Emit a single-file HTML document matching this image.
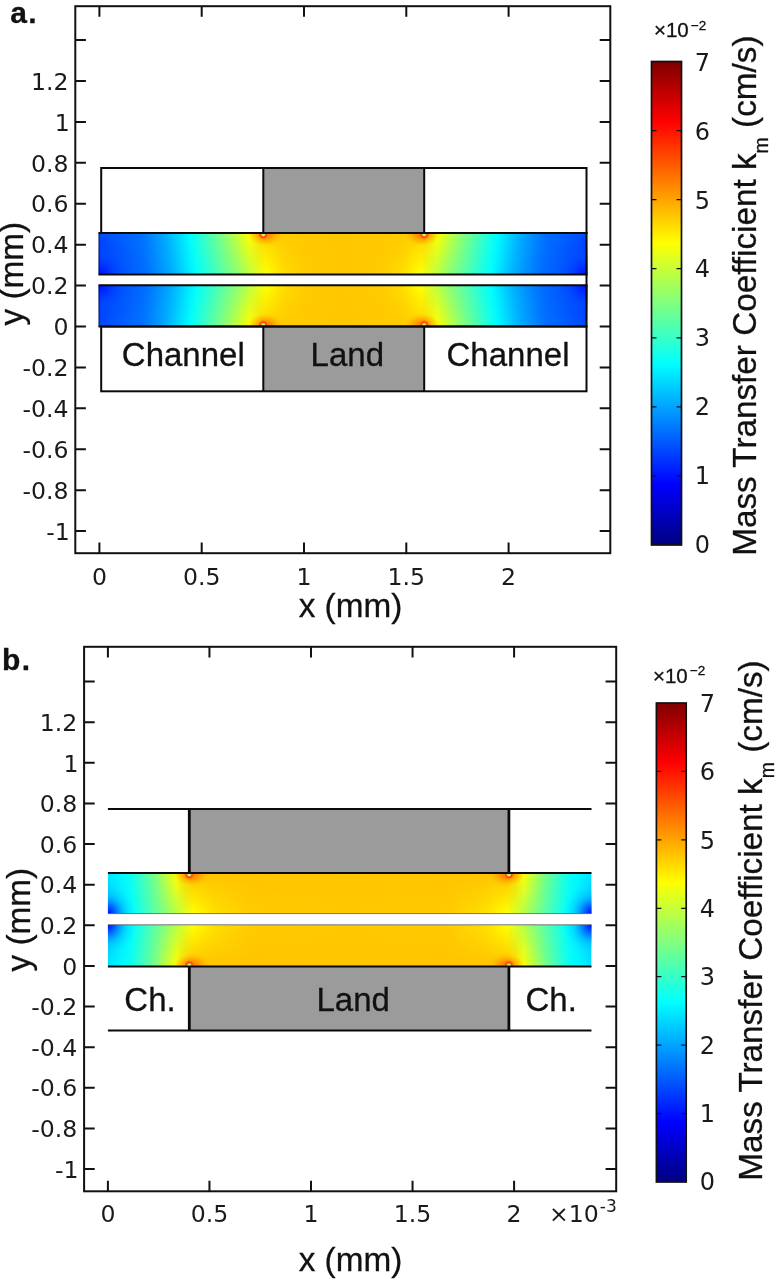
<!DOCTYPE html><html><head><meta charset="utf-8"><title>Mass transfer coefficient</title>
<style>html,body{margin:0;padding:0;background:#fff}svg{display:block}.tk{font-family:"DejaVu Sans","Liberation Sans",sans-serif;font-size:23.6px;fill:#1a1a1a}.cb{font-family:"DejaVu Sans","Liberation Sans",sans-serif;font-size:24px;fill:#1a1a1a}.ar{font-family:"Liberation Sans",Arial,sans-serif;fill:#111;stroke:#111;stroke-width:0.3px}</style></head><body>
<svg width="776" height="1280" viewBox="0 0 776 1280">
<defs>
<linearGradient id="jet" x1="0" y1="0" x2="0" y2="1"><stop offset="0.0000" stop-color="#800000"/><stop offset="0.0312" stop-color="#9f0000"/><stop offset="0.0625" stop-color="#bf0000"/><stop offset="0.0938" stop-color="#df0000"/><stop offset="0.1250" stop-color="#ff0000"/><stop offset="0.1562" stop-color="#ff2000"/><stop offset="0.1875" stop-color="#ff4000"/><stop offset="0.2188" stop-color="#ff6000"/><stop offset="0.2500" stop-color="#ff8000"/><stop offset="0.2812" stop-color="#ff9f00"/><stop offset="0.3125" stop-color="#ffbf00"/><stop offset="0.3438" stop-color="#ffdf00"/><stop offset="0.3750" stop-color="#ffff00"/><stop offset="0.4062" stop-color="#dfff20"/><stop offset="0.4375" stop-color="#bfff40"/><stop offset="0.4688" stop-color="#9fff60"/><stop offset="0.5000" stop-color="#80ff80"/><stop offset="0.5312" stop-color="#60ff9f"/><stop offset="0.5625" stop-color="#40ffbf"/><stop offset="0.5938" stop-color="#20ffdf"/><stop offset="0.6250" stop-color="#00ffff"/><stop offset="0.6562" stop-color="#00dfff"/><stop offset="0.6875" stop-color="#00bfff"/><stop offset="0.7188" stop-color="#009fff"/><stop offset="0.7500" stop-color="#0080ff"/><stop offset="0.7812" stop-color="#0060ff"/><stop offset="0.8125" stop-color="#0040ff"/><stop offset="0.8438" stop-color="#0020ff"/><stop offset="0.8750" stop-color="#0000ff"/><stop offset="0.9062" stop-color="#0000df"/><stop offset="0.9375" stop-color="#0000bf"/><stop offset="0.9688" stop-color="#00009f"/><stop offset="1.0000" stop-color="#000080"/></linearGradient>
<linearGradient id="vmask" x1="0" y1="0" x2="0" y2="1"><stop offset="0" stop-color="#000"/><stop offset="1" stop-color="#fff"/></linearGradient>
<linearGradient id="vmaskr" x1="0" y1="0" x2="0" y2="1"><stop offset="0" stop-color="#fff"/><stop offset="1" stop-color="#000"/></linearGradient>
</defs>
<defs>
<linearGradient id="ago" gradientUnits="userSpaceOnUse" x1="98.8" y1="0" x2="587.4" y2="0"><stop offset="0.0012" stop-color="#004cff"/><stop offset="0.0438" stop-color="#005fff"/><stop offset="0.0864" stop-color="#0071ff"/><stop offset="0.1109" stop-color="#008eff"/><stop offset="0.1355" stop-color="#00abff"/><stop offset="0.1525" stop-color="#00c7ff"/><stop offset="0.1696" stop-color="#00e4ff"/><stop offset="0.1867" stop-color="#01fffe"/><stop offset="0.2046" stop-color="#24ffdb"/><stop offset="0.2225" stop-color="#47ffb8"/><stop offset="0.2404" stop-color="#6bff94"/><stop offset="0.2583" stop-color="#8eff71"/><stop offset="0.2706" stop-color="#aaff55"/><stop offset="0.2828" stop-color="#c7ff38"/><stop offset="0.2951" stop-color="#e3ff1c"/><stop offset="0.3074" stop-color="#ffff00"/><stop offset="0.3207" stop-color="#ffea00"/><stop offset="0.3340" stop-color="#ffd500"/><stop offset="0.3709" stop-color="#ffca00"/><stop offset="0.5000" stop-color="#ffc700"/><stop offset="0.5000" stop-color="#ffc700"/><stop offset="0.6291" stop-color="#ffca00"/><stop offset="0.6660" stop-color="#ffd500"/><stop offset="0.6793" stop-color="#ffea00"/><stop offset="0.6926" stop-color="#ffff00"/><stop offset="0.7049" stop-color="#e3ff1c"/><stop offset="0.7172" stop-color="#c7ff38"/><stop offset="0.7294" stop-color="#aaff55"/><stop offset="0.7417" stop-color="#8eff71"/><stop offset="0.7596" stop-color="#6bff94"/><stop offset="0.7775" stop-color="#47ffb8"/><stop offset="0.7954" stop-color="#24ffdb"/><stop offset="0.8133" stop-color="#01fffe"/><stop offset="0.8304" stop-color="#00e4ff"/><stop offset="0.8475" stop-color="#00c7ff"/><stop offset="0.8645" stop-color="#00abff"/><stop offset="0.8891" stop-color="#008eff"/><stop offset="0.9136" stop-color="#0071ff"/><stop offset="0.9562" stop-color="#005fff"/><stop offset="0.9988" stop-color="#004cff"/></linearGradient>
<linearGradient id="agi" gradientUnits="userSpaceOnUse" x1="98.8" y1="0" x2="587.4" y2="0"><stop offset="0.0012" stop-color="#0028ff"/><stop offset="0.0274" stop-color="#003eff"/><stop offset="0.0536" stop-color="#0054ff"/><stop offset="0.0986" stop-color="#0071ff"/><stop offset="0.1232" stop-color="#008eff"/><stop offset="0.1478" stop-color="#00abff"/><stop offset="0.1648" stop-color="#00c7ff"/><stop offset="0.1819" stop-color="#00e4ff"/><stop offset="0.1989" stop-color="#01fffe"/><stop offset="0.2204" stop-color="#24ffdb"/><stop offset="0.2419" stop-color="#47ffb8"/><stop offset="0.2634" stop-color="#6bff94"/><stop offset="0.2849" stop-color="#8eff71"/><stop offset="0.2992" stop-color="#aaff55"/><stop offset="0.3135" stop-color="#c7ff38"/><stop offset="0.3279" stop-color="#e3ff1c"/><stop offset="0.3422" stop-color="#ffff00"/><stop offset="0.3811" stop-color="#ffdb00"/><stop offset="0.4220" stop-color="#ffcb00"/><stop offset="0.5000" stop-color="#ffc700"/><stop offset="0.5000" stop-color="#ffc700"/><stop offset="0.5780" stop-color="#ffcb00"/><stop offset="0.6189" stop-color="#ffdb00"/><stop offset="0.6578" stop-color="#ffff00"/><stop offset="0.6721" stop-color="#e3ff1c"/><stop offset="0.6865" stop-color="#c7ff38"/><stop offset="0.7008" stop-color="#aaff55"/><stop offset="0.7151" stop-color="#8eff71"/><stop offset="0.7366" stop-color="#6bff94"/><stop offset="0.7581" stop-color="#47ffb8"/><stop offset="0.7796" stop-color="#24ffdb"/><stop offset="0.8011" stop-color="#01fffe"/><stop offset="0.8181" stop-color="#00e4ff"/><stop offset="0.8352" stop-color="#00c7ff"/><stop offset="0.8522" stop-color="#00abff"/><stop offset="0.8768" stop-color="#008eff"/><stop offset="0.9014" stop-color="#0071ff"/><stop offset="0.9464" stop-color="#0054ff"/><stop offset="0.9726" stop-color="#003eff"/><stop offset="0.9988" stop-color="#0028ff"/></linearGradient>
<mask id="amu" maskUnits="userSpaceOnUse" x="0" y="233" width="776" height="41.5"><rect x="0" y="233" width="776" height="41.5" fill="url(#amku)"/></mask>
<linearGradient id="amku" gradientUnits="userSpaceOnUse" x1="0" y1="233" x2="0" y2="274.5"><stop offset="0" stop-color="#000"/><stop offset="1" stop-color="#fff"/></linearGradient>
<mask id="aml" maskUnits="userSpaceOnUse" x="0" y="285.2" width="776" height="41.3"><rect x="0" y="285.2" width="776" height="41.3" fill="url(#amkl)"/></mask>
<linearGradient id="amkl" gradientUnits="userSpaceOnUse" x1="0" y1="285.2" x2="0" y2="326.5"><stop offset="0" stop-color="#fff"/><stop offset="1" stop-color="#000"/></linearGradient>
<radialGradient id="ahot"><stop offset="0" stop-color="#f04800"/><stop offset="0.55" stop-color="#f55000"/><stop offset="0.8" stop-color="#ff7800" stop-opacity="0.7"/><stop offset="1" stop-color="#ff9600" stop-opacity="0"/></radialGradient>
<radialGradient id="ahalo"><stop offset="0" stop-color="#ff7800" stop-opacity="1"/><stop offset="0.35" stop-color="#ff8c00" stop-opacity="0.85"/><stop offset="0.7" stop-color="#ffaa00" stop-opacity="0.45"/><stop offset="1" stop-color="#ffc800" stop-opacity="0"/></radialGradient>
<radialGradient id="acold"><stop offset="0" stop-color="#000bff" stop-opacity="1"/><stop offset="0.3" stop-color="#002fff" stop-opacity="0.85"/><stop offset="0.65" stop-color="#0054ff" stop-opacity="0.4"/><stop offset="1" stop-color="#006aff" stop-opacity="0"/></radialGradient>
<clipPath id="acu"><rect x="98.8" y="233" width="488.6" height="41.5"/></clipPath>
<clipPath id="acl"><rect x="98.8" y="285.2" width="488.6" height="41.3"/></clipPath>
</defs>
<rect x="263.3" y="168" width="160.9" height="65" fill="#9b9b9b"/>
<rect x="263.3" y="326.5" width="160.9" height="64.8" fill="#9b9b9b"/>
<g clip-path="url(#acu)">
<rect x="98.8" y="233" width="488.6" height="41.5" fill="url(#ago)"/>
<rect x="98.8" y="233" width="488.6" height="41.5" fill="url(#agi)" mask="url(#amu)"/>
<ellipse cx="98.8" cy="274.5" rx="34" ry="30" fill="url(#acold)"/>
<ellipse cx="587.4" cy="274.5" rx="34" ry="30" fill="url(#acold)"/>
<ellipse cx="265.8" cy="234.3" rx="18" ry="12" fill="url(#ahalo)"/>
<circle cx="263.3" cy="234.3" r="5.5" fill="url(#ahot)"/>
<circle cx="263.3" cy="234.3" r="2.1" fill="#cdea84"/>
<ellipse cx="421.7" cy="234.3" rx="18" ry="12" fill="url(#ahalo)"/>
<circle cx="424.2" cy="234.3" r="5.5" fill="url(#ahot)"/>
<circle cx="424.2" cy="234.3" r="2.1" fill="#cdea84"/>
</g>
<g clip-path="url(#acl)">
<rect x="98.8" y="285.2" width="488.6" height="41.3" fill="url(#ago)"/>
<rect x="98.8" y="285.2" width="488.6" height="41.3" fill="url(#agi)" mask="url(#aml)"/>
<ellipse cx="98.8" cy="285.2" rx="34" ry="30" fill="url(#acold)"/>
<ellipse cx="587.4" cy="285.2" rx="34" ry="30" fill="url(#acold)"/>
<ellipse cx="265.8" cy="325.2" rx="18" ry="12" fill="url(#ahalo)"/>
<circle cx="263.3" cy="325.2" r="5.5" fill="url(#ahot)"/>
<circle cx="263.3" cy="325.2" r="2.1" fill="#cdea84"/>
<ellipse cx="421.7" cy="325.2" rx="18" ry="12" fill="url(#ahalo)"/>
<circle cx="424.2" cy="325.2" r="5.5" fill="url(#ahot)"/>
<circle cx="424.2" cy="325.2" r="2.1" fill="#cdea84"/>
</g>
<rect x="101.2" y="168" width="485.3" height="65" stroke="#0a0a0a" stroke-width="2" fill="none"/>
<rect x="101.2" y="326.5" width="485.3" height="64.8" stroke="#0a0a0a" stroke-width="2" fill="none"/>
<line x1="98.5" y1="233" x2="587.5" y2="233" stroke="#0a0a0a" stroke-width="2" fill="none"/>
<line x1="98.5" y1="274.5" x2="587.5" y2="274.5" stroke="#0a0a0a" stroke-width="2" fill="none"/>
<line x1="98.5" y1="285.2" x2="587.5" y2="285.2" stroke="#0a0a0a" stroke-width="2" fill="none"/>
<line x1="98.5" y1="326.5" x2="587.5" y2="326.5" stroke="#0a0a0a" stroke-width="2" fill="none"/>
<line x1="586.5" y1="233" x2="586.5" y2="326.5" stroke="#0a0a0a" stroke-width="2" fill="none"/>
<line x1="99" y1="233" x2="99" y2="274.5" stroke="#001060" stroke-width="1" fill="none"/>
<line x1="99" y1="285.2" x2="99" y2="326.5" stroke="#001060" stroke-width="1" fill="none"/>
<line x1="263.3" y1="168" x2="263.3" y2="233" stroke="#0a0a0a" stroke-width="2" fill="none"/>
<line x1="263.3" y1="326.5" x2="263.3" y2="391.3" stroke="#0a0a0a" stroke-width="2" fill="none"/>
<line x1="424.2" y1="168" x2="424.2" y2="233" stroke="#0a0a0a" stroke-width="2" fill="none"/>
<line x1="424.2" y1="326.5" x2="424.2" y2="391.3" stroke="#0a0a0a" stroke-width="2" fill="none"/>
<text class="ar" x="183.3" y="366.2" font-size="33" text-anchor="middle">Channel</text>
<text class="ar" x="347.3" y="366.2" font-size="33" text-anchor="middle">Land</text>
<text class="ar" x="508" y="366.2" font-size="33" text-anchor="middle">Channel</text>
<rect x="75.3" y="6.2" width="535" height="547" fill="none" stroke="#111" stroke-width="2"/>
<path d="M99.4 6.2v10.6M99.4 553.2v-10.6M201.7 6.2v10.6M201.7 553.2v-10.6M304 6.2v10.6M304 553.2v-10.6M406.3 6.2v10.6M406.3 553.2v-10.6M508.6 6.2v10.6M508.6 553.2v-10.6M75.3 531.1h10.6M610.3 531.1h-10.6M75.3 490.18h10.6M610.3 490.18h-10.6M75.3 449.26h10.6M610.3 449.26h-10.6M75.3 408.34h10.6M610.3 408.34h-10.6M75.3 367.42h10.6M610.3 367.42h-10.6M75.3 326.5h10.6M610.3 326.5h-10.6M75.3 285.58h10.6M610.3 285.58h-10.6M75.3 244.66h10.6M610.3 244.66h-10.6M75.3 203.74h10.6M610.3 203.74h-10.6M75.3 162.82h10.6M610.3 162.82h-10.6M75.3 121.9h10.6M610.3 121.9h-10.6M75.3 80.98h10.6M610.3 80.98h-10.6M75.3 40.06h10.6M610.3 40.06h-10.6" stroke="#111" stroke-width="2" fill="none"/>
<text class="tk" x="99.4" y="584.5" text-anchor="middle">0</text>
<text class="tk" x="201.7" y="584.5" text-anchor="middle">0.5</text>
<text class="tk" x="304" y="584.5" text-anchor="middle">1</text>
<text class="tk" x="406.3" y="584.5" text-anchor="middle">1.5</text>
<text class="tk" x="508.6" y="584.5" text-anchor="middle">2</text>
<text class="tk" x="69.8" y="539.8" text-anchor="end">-1</text>
<text class="tk" x="68.5" y="498.88" text-anchor="end">-0.8</text>
<text class="tk" x="68.5" y="457.96" text-anchor="end">-0.6</text>
<text class="tk" x="68.5" y="417.04" text-anchor="end">-0.4</text>
<text class="tk" x="68.5" y="376.12" text-anchor="end">-0.2</text>
<text class="tk" x="68.5" y="335.2" text-anchor="end">0</text>
<text class="tk" x="68.5" y="294.28" text-anchor="end">0.2</text>
<text class="tk" x="68.5" y="253.36" text-anchor="end">0.4</text>
<text class="tk" x="68.5" y="212.44" text-anchor="end">0.6</text>
<text class="tk" x="68.5" y="171.52" text-anchor="end">0.8</text>
<text class="tk" x="69.8" y="130.6" text-anchor="end">1</text>
<text class="tk" x="68.5" y="89.68" text-anchor="end">1.2</text>
<text class="ar" x="350.5" y="617" font-size="33.3" text-anchor="middle">x (mm)</text>
<text class="ar" transform="translate(23 273.6) rotate(-90)" font-size="33.3" text-anchor="middle">y (mm)</text>
<text class="ar" x="10.3" y="22.5" font-size="30" font-weight="bold" letter-spacing="1.3">a.</text>
<rect x="651.5" y="61.5" width="30" height="483.5" fill="url(#jet)" stroke="#111" stroke-width="1.7"/>
<path d="M651.5 475.929h5M681.5 475.929h-5M651.5 406.857h5M681.5 406.857h-5M651.5 337.786h5M681.5 337.786h-5M651.5 268.714h5M681.5 268.714h-5M651.5 199.643h5M681.5 199.643h-5M651.5 130.571h5M681.5 130.571h-5" stroke="#111" stroke-width="1.3" fill="none"/>
<text class="cb" x="694.7" y="553.2">0</text>
<text class="cb" x="694.7" y="484.27">1</text>
<text class="cb" x="694.7" y="415.34">2</text>
<text class="cb" x="694.7" y="346.41">3</text>
<text class="cb" x="694.7" y="277.48">4</text>
<text class="cb" x="694.7" y="208.55">5</text>
<text class="cb" x="694.7" y="139.62">6</text>
<text class="cb" x="694.7" y="70.69">7</text>
<text class="ar" x="654" y="37" font-size="20.5">×10<tspan dx="2.2" dy="-7.5" font-size="13.5">−2</tspan></text>
<text class="ar" transform="translate(756.2 555.8) rotate(-90)" font-size="33.28">Mass Transfer Coefficient k<tspan dy="11.4" font-size="19.5">m</tspan><tspan dy="-11.4"> (cm/s)</tspan></text>
<defs>
<linearGradient id="bgo" gradientUnits="userSpaceOnUse" x1="107.9" y1="0" x2="591.5" y2="0"><stop offset="0.0000" stop-color="#00e6ff"/><stop offset="0.0228" stop-color="#00f8ff"/><stop offset="0.0457" stop-color="#0bfff4"/><stop offset="0.0616" stop-color="#2dffd2"/><stop offset="0.0774" stop-color="#4fffb0"/><stop offset="0.0933" stop-color="#71ff8e"/><stop offset="0.1051" stop-color="#94ff6b"/><stop offset="0.1170" stop-color="#b8ff47"/><stop offset="0.1289" stop-color="#dbff24"/><stop offset="0.1408" stop-color="#ffff00"/><stop offset="0.1491" stop-color="#ffec00"/><stop offset="0.1574" stop-color="#ffd800"/><stop offset="0.1739" stop-color="#ffc100"/><stop offset="0.2215" stop-color="#ffc400"/><stop offset="0.5000" stop-color="#ffc700"/><stop offset="0.5000" stop-color="#ffc700"/><stop offset="0.7785" stop-color="#ffc400"/><stop offset="0.8261" stop-color="#ffc100"/><stop offset="0.8426" stop-color="#ffd800"/><stop offset="0.8509" stop-color="#ffec00"/><stop offset="0.8592" stop-color="#ffff00"/><stop offset="0.8711" stop-color="#dbff24"/><stop offset="0.8830" stop-color="#b8ff47"/><stop offset="0.8949" stop-color="#94ff6b"/><stop offset="0.9067" stop-color="#71ff8e"/><stop offset="0.9226" stop-color="#4fffb0"/><stop offset="0.9384" stop-color="#2dffd2"/><stop offset="0.9543" stop-color="#0bfff4"/><stop offset="0.9772" stop-color="#00f8ff"/><stop offset="1.0000" stop-color="#00e6ff"/></linearGradient>
<linearGradient id="bgi" gradientUnits="userSpaceOnUse" x1="107.9" y1="0" x2="591.5" y2="0"><stop offset="0.0000" stop-color="#00b2ff"/><stop offset="0.0125" stop-color="#00c8ff"/><stop offset="0.0250" stop-color="#00deff"/><stop offset="0.0405" stop-color="#00f4ff"/><stop offset="0.0560" stop-color="#0bfff4"/><stop offset="0.0733" stop-color="#2dffd2"/><stop offset="0.0905" stop-color="#4fffb0"/><stop offset="0.1077" stop-color="#71ff8e"/><stop offset="0.1248" stop-color="#94ff6b"/><stop offset="0.1419" stop-color="#b8ff47"/><stop offset="0.1589" stop-color="#dbff24"/><stop offset="0.1760" stop-color="#ffff00"/><stop offset="0.2215" stop-color="#ffde00"/><stop offset="0.2938" stop-color="#ffcb00"/><stop offset="0.5000" stop-color="#ffc700"/><stop offset="0.5000" stop-color="#ffc700"/><stop offset="0.7062" stop-color="#ffcb00"/><stop offset="0.7785" stop-color="#ffde00"/><stop offset="0.8240" stop-color="#ffff00"/><stop offset="0.8411" stop-color="#dbff24"/><stop offset="0.8581" stop-color="#b8ff47"/><stop offset="0.8752" stop-color="#94ff6b"/><stop offset="0.8923" stop-color="#71ff8e"/><stop offset="0.9095" stop-color="#4fffb0"/><stop offset="0.9267" stop-color="#2dffd2"/><stop offset="0.9440" stop-color="#0bfff4"/><stop offset="0.9595" stop-color="#00f4ff"/><stop offset="0.9750" stop-color="#00deff"/><stop offset="0.9875" stop-color="#00c8ff"/><stop offset="1.0000" stop-color="#00b2ff"/></linearGradient>
<mask id="bmu" maskUnits="userSpaceOnUse" x="0" y="873.1" width="776" height="40.5"><rect x="0" y="873.1" width="776" height="40.5" fill="url(#bmku)"/></mask>
<linearGradient id="bmku" gradientUnits="userSpaceOnUse" x1="0" y1="873.1" x2="0" y2="913.6"><stop offset="0" stop-color="#000"/><stop offset="1" stop-color="#fff"/></linearGradient>
<mask id="bml" maskUnits="userSpaceOnUse" x="0" y="924.8" width="776" height="41.8"><rect x="0" y="924.8" width="776" height="41.8" fill="url(#bmkl)"/></mask>
<linearGradient id="bmkl" gradientUnits="userSpaceOnUse" x1="0" y1="924.8" x2="0" y2="966.6"><stop offset="0" stop-color="#fff"/><stop offset="1" stop-color="#000"/></linearGradient>
<radialGradient id="bhot"><stop offset="0" stop-color="#f04800"/><stop offset="0.55" stop-color="#f55000"/><stop offset="0.8" stop-color="#ff7800" stop-opacity="0.7"/><stop offset="1" stop-color="#ff9600" stop-opacity="0"/></radialGradient>
<radialGradient id="bhalo"><stop offset="0" stop-color="#ff7800" stop-opacity="1"/><stop offset="0.35" stop-color="#ff8c00" stop-opacity="0.85"/><stop offset="0.7" stop-color="#ffaa00" stop-opacity="0.45"/><stop offset="1" stop-color="#ffc800" stop-opacity="0"/></radialGradient>
<radialGradient id="bcold"><stop offset="0" stop-color="#0004ff" stop-opacity="1"/><stop offset="0.25" stop-color="#005bff" stop-opacity="0.9"/><stop offset="0.55" stop-color="#00b2ff" stop-opacity="0.55"/><stop offset="1" stop-color="#00fbff" stop-opacity="0"/></radialGradient>
<clipPath id="bcu"><rect x="107.9" y="873.1" width="483.6" height="40.5"/></clipPath>
<clipPath id="bcl"><rect x="107.9" y="924.8" width="483.6" height="41.8"/></clipPath>
</defs>
<rect x="189.3" y="809" width="319.6" height="64.1" fill="#9b9b9b"/>
<rect x="189.3" y="966.6" width="319.6" height="63.9" fill="#9b9b9b"/>
<g clip-path="url(#bcu)">
<rect x="107.9" y="873.1" width="483.6" height="40.5" fill="url(#bgo)"/>
<rect x="107.9" y="873.1" width="483.6" height="40.5" fill="url(#bgi)" mask="url(#bmu)"/>
<ellipse cx="107.9" cy="913.6" rx="30" ry="32" fill="url(#bcold)"/>
<ellipse cx="591.5" cy="913.6" rx="30" ry="32" fill="url(#bcold)"/>
<ellipse cx="191.8" cy="874.4" rx="18" ry="12" fill="url(#bhalo)"/>
<circle cx="189.3" cy="874.4" r="5.5" fill="url(#bhot)"/>
<circle cx="189.3" cy="874.4" r="2.1" fill="#cdea84"/>
<ellipse cx="506.4" cy="874.4" rx="18" ry="12" fill="url(#bhalo)"/>
<circle cx="508.9" cy="874.4" r="5.5" fill="url(#bhot)"/>
<circle cx="508.9" cy="874.4" r="2.1" fill="#cdea84"/>
</g>
<g clip-path="url(#bcl)">
<rect x="107.9" y="924.8" width="483.6" height="41.8" fill="url(#bgo)"/>
<rect x="107.9" y="924.8" width="483.6" height="41.8" fill="url(#bgi)" mask="url(#bml)"/>
<ellipse cx="107.9" cy="924.8" rx="30" ry="32" fill="url(#bcold)"/>
<ellipse cx="591.5" cy="924.8" rx="30" ry="32" fill="url(#bcold)"/>
<ellipse cx="191.8" cy="965.3" rx="18" ry="12" fill="url(#bhalo)"/>
<circle cx="189.3" cy="965.3" r="5.5" fill="url(#bhot)"/>
<circle cx="189.3" cy="965.3" r="2.1" fill="#cdea84"/>
<ellipse cx="506.4" cy="965.3" rx="18" ry="12" fill="url(#bhalo)"/>
<circle cx="508.9" cy="965.3" r="5.5" fill="url(#bhot)"/>
<circle cx="508.9" cy="965.3" r="2.1" fill="#cdea84"/>
</g>
<line x1="107.9" y1="809" x2="591.5" y2="809" stroke="#0a0a0a" stroke-width="2" fill="none"/>
<line x1="107.9" y1="873.1" x2="591.5" y2="873.1" stroke="#0a0a0a" stroke-width="2" fill="none"/>
<line x1="107.9" y1="966.6" x2="591.5" y2="966.6" stroke="#0a0a0a" stroke-width="2" fill="none"/>
<line x1="107.9" y1="1030.5" x2="591.5" y2="1030.5" stroke="#0a0a0a" stroke-width="2" fill="none"/>
<line x1="107.9" y1="913.6" x2="591.5" y2="913.6" stroke="#555" stroke-width="0.8" fill="none"/>
<line x1="107.9" y1="924.8" x2="591.5" y2="924.8" stroke="#555" stroke-width="0.8" fill="none"/>
<line x1="189.3" y1="809" x2="189.3" y2="873.1" stroke="#0a0a0a" stroke-width="2.8" fill="none"/>
<line x1="189.3" y1="966.6" x2="189.3" y2="1030.5" stroke="#0a0a0a" stroke-width="2.8" fill="none"/>
<line x1="508.9" y1="809" x2="508.9" y2="873.1" stroke="#0a0a0a" stroke-width="2.8" fill="none"/>
<line x1="508.9" y1="966.6" x2="508.9" y2="1030.5" stroke="#0a0a0a" stroke-width="2.8" fill="none"/>
<text class="ar" x="150" y="1010.5" font-size="33" text-anchor="middle">Ch.</text>
<text class="ar" x="353.2" y="1010.5" font-size="33" text-anchor="middle">Land</text>
<text class="ar" x="551.2" y="1010.5" font-size="33" text-anchor="middle">Ch.</text>
<rect x="84.1" y="646.8" width="532.1" height="544.5" fill="none" stroke="#111" stroke-width="2"/>
<path d="M107.9 646.8v10.6M107.9 1191.3v-10.6M209.45 646.8v10.6M209.45 1191.3v-10.6M311 646.8v10.6M311 1191.3v-10.6M412.55 646.8v10.6M412.55 1191.3v-10.6M514.1 646.8v10.6M514.1 1191.3v-10.6M84.1 1169h10.6M616.2 1169h-10.6M84.1 1128.38h10.6M616.2 1128.38h-10.6M84.1 1087.76h10.6M616.2 1087.76h-10.6M84.1 1047.14h10.6M616.2 1047.14h-10.6M84.1 1006.52h10.6M616.2 1006.52h-10.6M84.1 965.9h10.6M616.2 965.9h-10.6M84.1 925.28h10.6M616.2 925.28h-10.6M84.1 884.66h10.6M616.2 884.66h-10.6M84.1 844.04h10.6M616.2 844.04h-10.6M84.1 803.42h10.6M616.2 803.42h-10.6M84.1 762.8h10.6M616.2 762.8h-10.6M84.1 722.18h10.6M616.2 722.18h-10.6M84.1 681.56h10.6M616.2 681.56h-10.6" stroke="#111" stroke-width="2" fill="none"/>
<text class="tk" x="107.9" y="1222" text-anchor="middle">0</text>
<text class="tk" x="209.45" y="1222" text-anchor="middle">0.5</text>
<text class="tk" x="311" y="1222" text-anchor="middle">1</text>
<text class="tk" x="412.55" y="1222" text-anchor="middle">1.5</text>
<text class="tk" x="514.1" y="1222" text-anchor="middle">2</text>
<text class="tk" x="78.6" y="1177.7" text-anchor="end">-1</text>
<text class="tk" x="77.3" y="1137.08" text-anchor="end">-0.8</text>
<text class="tk" x="77.3" y="1096.46" text-anchor="end">-0.6</text>
<text class="tk" x="77.3" y="1055.84" text-anchor="end">-0.4</text>
<text class="tk" x="77.3" y="1015.22" text-anchor="end">-0.2</text>
<text class="tk" x="77.3" y="974.6" text-anchor="end">0</text>
<text class="tk" x="77.3" y="933.98" text-anchor="end">0.2</text>
<text class="tk" x="77.3" y="893.36" text-anchor="end">0.4</text>
<text class="tk" x="77.3" y="852.74" text-anchor="end">0.6</text>
<text class="tk" x="77.3" y="812.12" text-anchor="end">0.8</text>
<text class="tk" x="78.6" y="771.5" text-anchor="end">1</text>
<text class="tk" x="77.3" y="730.88" text-anchor="end">1.2</text>
<text class="ar" x="350.5" y="1270.5" font-size="33.3" text-anchor="middle">x (mm)</text>
<text class="ar" transform="translate(29.7 919.6) rotate(-90)" font-size="33.3" text-anchor="middle">y (mm)</text>
<text class="ar" x="2" y="669.5" font-size="30" font-weight="bold" letter-spacing="1.3">b.</text>
<text class="tk" x="549" y="1222">×10<tspan dx="1" dy="-10" font-size="17">-3</tspan></text>
<rect x="656.4" y="703" width="29.8" height="479" fill="url(#jet)" stroke="#111" stroke-width="1.7"/>
<path d="M656.4 1113.57h5M686.2 1113.57h-5M656.4 1045.14h5M686.2 1045.14h-5M656.4 976.714h5M686.2 976.714h-5M656.4 908.286h5M686.2 908.286h-5M656.4 839.857h5M686.2 839.857h-5M656.4 771.429h5M686.2 771.429h-5" stroke="#111" stroke-width="1.3" fill="none"/>
<text class="cb" x="699.8" y="1190.2">0</text>
<text class="cb" x="699.8" y="1121.86">1</text>
<text class="cb" x="699.8" y="1053.52">2</text>
<text class="cb" x="699.8" y="985.18">3</text>
<text class="cb" x="699.8" y="916.84">4</text>
<text class="cb" x="699.8" y="848.5">5</text>
<text class="cb" x="699.8" y="780.16">6</text>
<text class="cb" x="699.8" y="711.82">7</text>
<text class="ar" x="653" y="682.5" font-size="20.5">×10<tspan dx="2.2" dy="-7.5" font-size="13.5">−2</tspan></text>
<text class="ar" transform="translate(762.2 1180.7) rotate(-90)" font-size="33.28">Mass Transfer Coefficient k<tspan dy="11.4" font-size="19.5">m</tspan><tspan dy="-11.4"> (cm/s)</tspan></text>
</svg></body></html>
